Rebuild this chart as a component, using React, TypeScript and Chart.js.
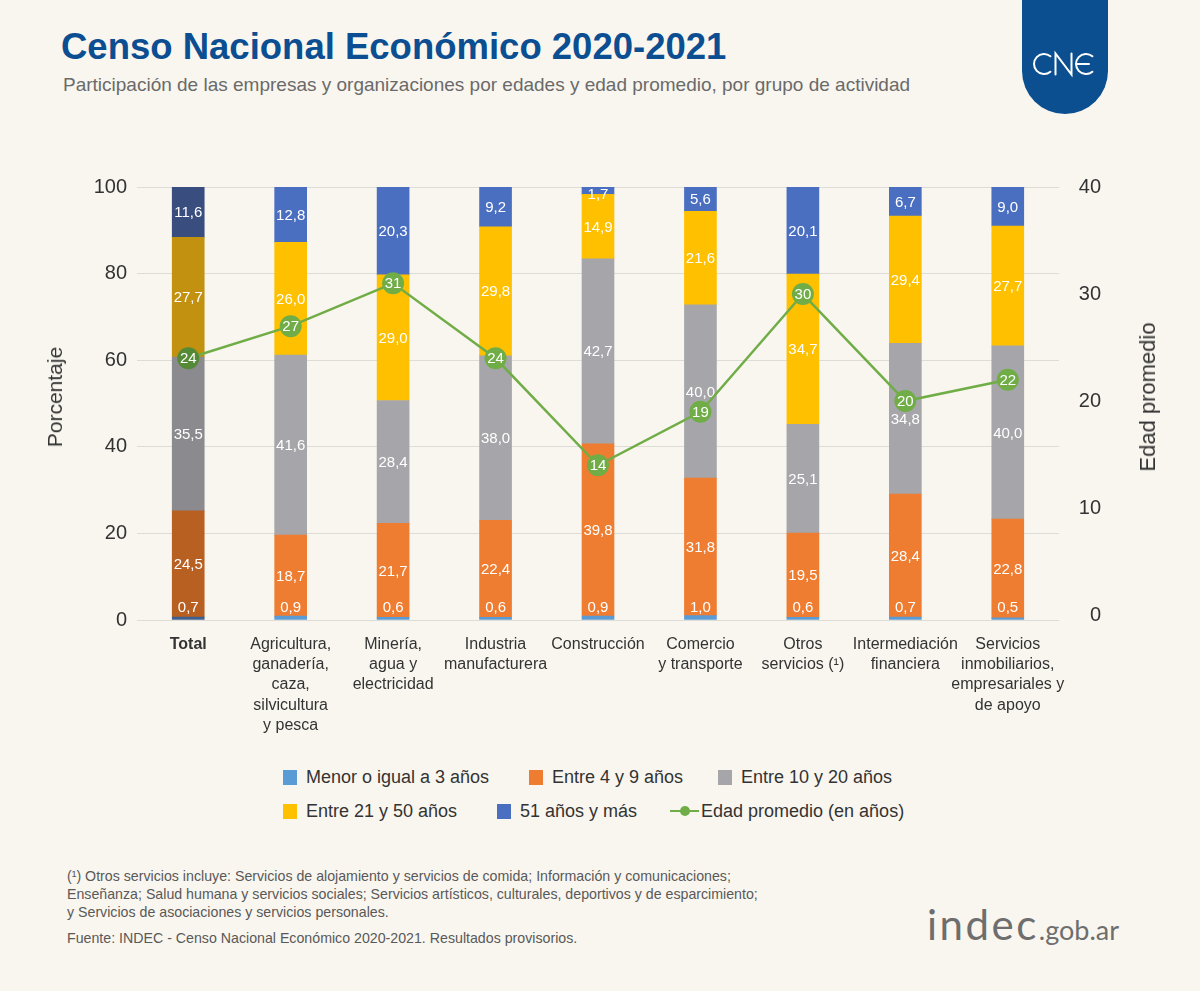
import React, { useEffect, useRef } from "react";
import { Chart, registerables } from "chart.js";

Chart.register(...registerables);

const FONT = '"Liberation Sans", Arial, Helvetica, sans-serif';

// Activity groups (x axis)
const categories: (string | string[])[] = [
  "Total",
  ["Agricultura,", "ganadería,", "caza,", "silvicultura", "y pesca"],
  ["Minería,", "agua y", "electricidad"],
  ["Industria", "manufacturera"],
  "Construcción",
  ["Comercio", "y transporte"],
  ["Otros", "servicios (¹)"],
  ["Intermediación", "financiera"],
  ["Servicios", "inmobiliarios,", "empresariales y", "de apoyo"],
];

// Share of firms by age bracket (%)
const seriesNames = [
  "Menor o igual a 3 años",
  "Entre 4 y 9 años",
  "Entre 10 y 20 años",
  "Entre 21 y 50 años",
  "51 años y más",
];
const upTo3 = [0.7, 0.9, 0.6, 0.6, 0.9, 1.0, 0.6, 0.7, 0.5];
const from4to9 = [24.5, 18.7, 21.7, 22.4, 39.8, 31.8, 19.5, 28.4, 22.8];
const from10to20 = [35.5, 41.6, 28.4, 38.0, 42.7, 40.0, 25.1, 34.8, 40.0];
const from21to50 = [27.7, 26.0, 29.0, 29.8, 14.9, 21.6, 34.7, 29.4, 27.7];
const over51 = [11.6, 12.8, 20.3, 9.2, 1.7, 5.6, 20.1, 6.7, 9.0];

// Average age (years), right axis
const lineName = "Edad promedio (en años)";
const averageAge = [24, 27, 31, 24, 14, 19, 30, 20, 22];

const percentTicks = [0, 20, 40, 60, 80, 100];
const ageTicks = [0, 10, 20, 30, 40];

// Palette: the "Total" column uses darker shades
const baseColors = ["#5b9bd5", "#ee7d31", "#a6a6aa", "#ffc000", "#4a6fc0"];
const totalColors = ["#3f5f8f", "#b85f22", "#8a8a8f", "#c1910f", "#394e7f"];
const lineColor = "#70ad47";
const totalPointColor = "#548a35";

const seriesValues = [upTo3, from4to9, from10to20, from21to50, over51];

const fmt = (v: number) => v.toFixed(1).replace(".", ",");

// Bar values are written once all bars are drawn (just before the line),
// point values right after the line.
const valueLabels = {
  id: "valueLabels",
  beforeDatasetDraw(chart: any, args: any) {
    if (args.meta.type !== "line") return;
    const { ctx } = chart;
    ctx.save();
    ctx.fillStyle = "#ffffff";
    ctx.textAlign = "center";
    ctx.textBaseline = "middle";
    ctx.font = `15px ${FONT}`;
    chart.data.datasets.forEach((ds: any, di: number) => {
      const meta = chart.getDatasetMeta(di);
      if (meta.type !== "bar") return;
      meta.data.forEach((el: any, i: number) => {
        const v = ds.data[i] as number;
        const { x, y, base } = el.getProps(["x", "y", "base"], true);
        let cy = (y + base) / 2;
        if (di === 0) cy = base - 13;
        else cy = Math.max(cy, y + 7);
        ctx.fillText(fmt(v), x, cy + 1);
      });
    });
    ctx.restore();
  },
  afterDatasetDraw(chart: any, args: any) {
    if (args.meta.type !== "line") return;
    const { ctx } = chart;
    const ds = chart.data.datasets[args.index];
    ctx.save();
    ctx.fillStyle = "#ffffff";
    ctx.textAlign = "center";
    ctx.textBaseline = "middle";
    ctx.font = `15px ${FONT}`;
    args.meta.data.forEach((el: any, i: number) => {
      ctx.fillText(String(ds.data[i]), el.x, el.y + 1);
    });
    ctx.restore();
  },
};

function Logo() {
  return (
    <svg
      width={86}
      height={115}
      viewBox="0 0 86 115"
      style={{ position: "absolute", left: 1022, top: 0 }}
    >
      <path d="M0 0 H86 V71 A43 43 0 0 1 0 71 Z" fill="#0b4f91" />
      <g stroke="#ffffff" strokeWidth={2} fill="none" strokeLinecap="round">
        <path d="M28.4 56.3 A10 10 0 1 0 28.4 71.7" />
        <path d="M33.5 74.5 V53.5 L49.5 74.5 V53.5" />
        <path d="M70.4 56.3 A10 10 0 1 0 70.4 71.7" />
        <path d="M54.5 64 H67" />
      </g>
    </svg>
  );
}

const legendItems = [
  { label: seriesNames[0], color: baseColors[0], x: 283, row: 0 },
  { label: seriesNames[1], color: baseColors[1], x: 529, row: 0 },
  { label: seriesNames[2], color: baseColors[2], x: 718, row: 0 },
  { label: seriesNames[3], color: baseColors[3], x: 283, row: 1 },
  { label: seriesNames[4], color: baseColors[4], x: 497, row: 1 },
];
const legendRows = [777, 811];

export default function App() {
  const canvasRef = useRef<HTMLCanvasElement>(null);

  useEffect(() => {
    const barSets = seriesValues.map((vals, k) => ({
      type: "bar" as const,
      label: seriesNames[k],
      data: vals,
      backgroundColor: categories.map((_, i) => (i === 0 ? totalColors[k] : baseColors[k])),
      borderWidth: 0,
      barThickness: 32,
      stack: "s",
      yAxisID: "y",
      order: 1,
    }));
    const lineSet = {
      type: "line" as const,
      label: lineName,
      data: averageAge,
      borderColor: lineColor,
      borderWidth: 2.5,
      backgroundColor: lineColor,
      pointRadius: 11,
      pointBorderWidth: 0,
      pointBackgroundColor: categories.map((_, i) => (i === 0 ? totalPointColor : lineColor)),
      tension: 0,
      yAxisID: "y1",
      order: 0,
    };

    const chart = new Chart(canvasRef.current!, {
      type: "bar",
      data: { labels: categories as any, datasets: [...barSets, lineSet] as any },
      options: {
        responsive: false,
        animation: false,
        devicePixelRatio: 1,
        layout: { padding: { left: 0, right: 99, top: 0, bottom: 0 } },
        plugins: { legend: { display: false }, tooltip: { enabled: false } },
        scales: {
          x: {
            stacked: true,
            grid: { display: false, drawTicks: false },
            border: { display: false },
            ticks: {
              color: "#333333",
              autoSkip: false,
              maxRotation: 0,
              padding: 14,
              font: (c: any) => ({
                family: FONT,
                size: 16,
                lineHeight: 1.27,
                weight: c.index === 0 ? "bold" : "normal",
              }),
            },
            afterFit: (s: any) => {
              s.height = 145;
            },
          },
          y: {
            stacked: true,
            position: "left",
            min: 0,
            max: 100,
            afterBuildTicks: (s: any) => {
              s.ticks = percentTicks.map((v) => ({ value: v }));
            },
            grid: { color: "#dedcd6", lineWidth: 1, drawTicks: false },
            border: { display: false },
            ticks: { color: "#333333", padding: 10, font: { family: FONT, size: 20 } },
            afterFit: (s: any) => {
              s.width = 137;
            },
          },
          y1: {
            position: "right",
            min: -0.45,
            max: 40,
            afterBuildTicks: (s: any) => {
              s.ticks = ageTicks.map((v) => ({ value: v }));
            },
            grid: { display: false, drawTicks: false },
            border: { display: false },
            ticks: {
              color: "#333333",
              padding: 0,
              crossAlign: "far",
              font: { family: FONT, size: 20 },
            },
            afterFit: (s: any) => {
              s.width = 42;
            },
          },
        },
      } as any,
      plugins: [valueLabels],
    });
    return () => chart.destroy();
  }, []);

  return (
    <div
      style={{
        position: "absolute",
        left: 0,
        top: 0,
        width: 1200,
        height: 991,
        background: "#f9f6ef",
        overflow: "hidden",
        fontFamily: FONT,
        color: "#333333",
      }}
    >
      <div
        style={{
          position: "absolute",
          left: 61,
          top: 29,
          fontSize: 36.5,
          lineHeight: "36.5px",
          fontWeight: "bold",
          color: "#0c4e92",
          whiteSpace: "nowrap",
        }}
      >
        Censo Nacional Económico 2020-2021
      </div>
      <div
        style={{
          position: "absolute",
          left: 63,
          top: 75,
          fontSize: 19,
          lineHeight: "19px",
          color: "#6a6a6a",
          whiteSpace: "nowrap",
        }}
      >
        Participación de las empresas y organizaciones por edades y edad promedio, por grupo de actividad
      </div>
      <Logo />

      <canvas
        ref={canvasRef}
        width={1200}
        height={600}
        style={{ position: "absolute", left: 0, top: 165, width: 1200, height: 600 }}
      />

      <div
        style={{
          position: "absolute",
          left: 55,
          top: 397,
          transform: "translate(-50%, -50%) rotate(-90deg)",
          fontSize: 21,
          whiteSpace: "nowrap",
        }}
      >
        Porcentaje
      </div>
      <div
        style={{
          position: "absolute",
          left: 1148,
          top: 397,
          transform: "translate(-50%, -50%) rotate(-90deg)",
          fontSize: 22,
          whiteSpace: "nowrap",
        }}
      >
        Edad promedio
      </div>

      {legendItems.map((it) => (
        <div
          key={it.label}
          style={{
            position: "absolute",
            left: it.x,
            top: legendRows[it.row] - 10,
            height: 20,
            display: "flex",
            alignItems: "center",
            fontSize: 18,
            whiteSpace: "nowrap",
          }}
        >
          <span style={{ width: 14, height: 15, background: it.color, marginRight: 9, display: "inline-block" }} />
          {it.label}
        </div>
      ))}
      <div
        style={{
          position: "absolute",
          left: 670,
          top: legendRows[1] - 10,
          height: 20,
          display: "flex",
          alignItems: "center",
          fontSize: 18,
          whiteSpace: "nowrap",
        }}
      >
        <svg width={30} height={20} style={{ marginRight: 1 }}>
          <line x1={0} y1={10} x2={29} y2={10} stroke={lineColor} strokeWidth={2} />
          <circle cx={15} cy={10} r={5} fill={lineColor} />
        </svg>
        {lineName}
      </div>

      <div
        style={{
          position: "absolute",
          left: 67,
          top: 867,
          fontSize: 14.2,
          lineHeight: "18px",
          color: "#595959",
          whiteSpace: "nowrap",
        }}
      >
        <div>(¹) Otros servicios incluye: Servicios de alojamiento y servicios de comida; Información y comunicaciones;</div>
        <div>Enseñanza; Salud humana y servicios sociales; Servicios artísticos, culturales, deportivos y de esparcimiento;</div>
        <div>y Servicios de asociaciones y servicios personales.</div>
        <div style={{ marginTop: 8 }}>Fuente: INDEC - Censo Nacional Económico 2020-2021. Resultados provisorios.</div>
      </div>

      <div
        style={{
          position: "absolute",
          left: 927,
          top: 903,
          whiteSpace: "nowrap",
          color: "#6e6e6e",
          fontFamily: "Lato, 'Noto Sans', sans-serif",
          lineHeight: 1,
          display: "flex",
          alignItems: "baseline",
        }}
      >
        <span style={{ fontSize: 42, letterSpacing: 2.5 }}>indec</span>
        <span style={{ fontSize: 27 }}>.gob.ar</span>
      </div>
    </div>
  );
}
